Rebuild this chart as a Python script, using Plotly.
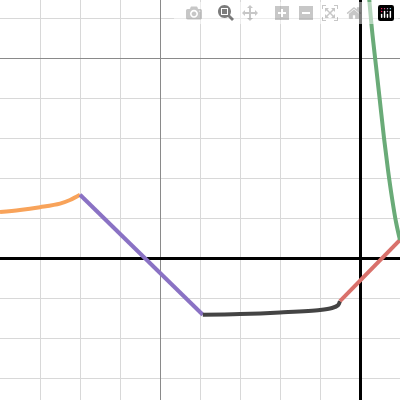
import plotly.graph_objects as go

# curve samples (graph units)
orange_x = [-9, -8.5, -8, -7.5, -7.25, -7]
orange_y = [1.15, 1.2, 1.27, 1.36, 1.45, 1.58]
purple_x = [-7, -3.93]
purple_y = [1.58, -1.42]
black_x = [-3.93, -3, -2, -1, -0.7, -0.55, -0.5]
black_y = [-1.42, -1.4, -1.36, -1.3, -1.25, -1.18, -1.08]
red_x = [-0.5, 1]
red_y = [-1.08, 0.45]
green_x = [0.22, 0.3, 0.4, 0.5, 0.6, 0.7, 0.8, 0.9, 1.0]
green_y = [6.6, 5.7, 4.8, 3.9, 3.0, 2.2, 1.5, 0.9, 0.45]

fig = go.Figure()
for xs, ys, c in [(orange_x, orange_y, "#f8a35a"), (purple_x, purple_y, "#8a72c4"),
                  (black_x, black_y, "#444444"), (red_x, red_y, "#d9716b"),
                  (green_x, green_y, "#6aab78")]:
    fig.add_trace(go.Scatter(x=xs, y=ys, mode="lines", line=dict(color=c, width=4),
                             line_shape="spline", cliponaxis=False))

axis = dict(showticklabels=False, dtick=5, gridcolor="#8a8a8a", gridwidth=1,
            minor=dict(dtick=1, gridcolor="#d8d8d8", gridwidth=1, showgrid=True),
            zeroline=True, zerolinecolor="#000", zerolinewidth=2.5)
fig.update_layout(width=400, height=400, margin=dict(l=0, r=0, t=0, b=0),
                  plot_bgcolor="white", paper_bgcolor="white", showlegend=False,
                  xaxis=dict(range=[-9, 1], **axis),
                  yaxis=dict(range=[-3.55, 6.45], **axis))
# kill the default 8px page margin so the plot fills the window
fig.write_html("out.html", post_script="document.body.style.margin='0';")
